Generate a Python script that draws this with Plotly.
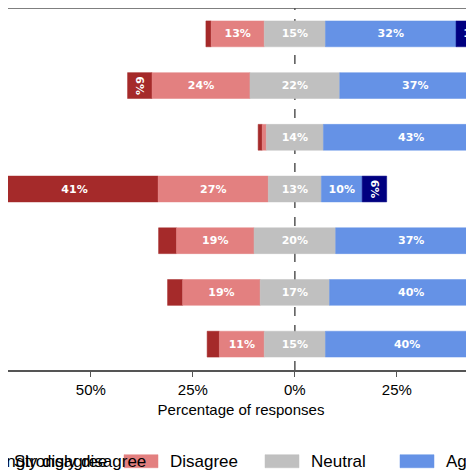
import plotly.graph_objects as go

questions = ["Q1", "Q2", "Q3", "Q4", "Q5", "Q6", "Q7"]
strongly_disagree = [1.3, 6, 1, 41, 4.4, 3.7, 3]
disagree = [13, 24, 1, 27, 19, 19, 11]
neutral = [15, 22, 14, 13, 20, 17, 15]
agree = [32, 37, 43, 10, 37, 40, 40]
strongly_agree = [10, 8, 5, 6, 9, 7, 12]

tick_vals = [-75, -50, -25, 0, 25, 50]
tick_text = ["75%", "50%", "25%", "0%", "25%", "50%"]

colors = {
    "Strongly disagree": "#a52a2a",
    "Disagree": "#e38080",
    "Neutral": "#c0c0c0",
    "Agree": "#6592e6",
    "Strongly agree": "#000080",
}

# stack outward from a neutral block centred on zero
bases = {k: [] for k in colors}
for sd, d, n, a in zip(strongly_disagree, disagree, neutral, agree):
    bases["Neutral"].append(-n / 2)
    bases["Disagree"].append(-n / 2 - d)
    bases["Strongly disagree"].append(-n / 2 - d - sd)
    bases["Agree"].append(n / 2)
    bases["Strongly agree"].append(n / 2 + a)

series = {
    "Strongly disagree": strongly_disagree,
    "Disagree": disagree,
    "Neutral": neutral,
    "Agree": agree,
    "Strongly agree": strongly_agree,
}

W, H = 466, 466
fig = go.Figure()
for name, vals in series.items():
    fig.add_trace(go.Bar(
        y=questions, x=vals, base=bases[name], orientation="h", name=name,
        marker=dict(color=colors[name], line=dict(color=colors[name], width=0.5)),
        text=[f"<b>{v:.0f}%</b>" if v >= 5 else "" for v in vals],
        textposition="inside", insidetextanchor="middle",
        textfont=dict(color="white", size=11, family="DejaVu Sans"),
        width=0.5, showlegend=False,
    ))

fig.add_shape(type="line", x0=0, x1=0, y0=0, y1=1, yref="paper", layer="below",
              line=dict(color="#555555", width=1.5, dash="dash"))
fig.add_shape(type="line", x0=0, x1=1, xref="paper", y0=1, y1=1, yref="paper",
              line=dict(color="#555", width=1.5))

# legend drawn by hand, the way the cropped reference shows it
legend_y = -0.252
swatch_px = {"Strongly disagree": -40, "Disagree": 116, "Neutral": 257, "Agree": 392, "Strongly agree": 560}
for name, px0 in swatch_px.items():
    fig.add_shape(type="rect", xref="paper", yref="paper",
                  x0=px0 / W, x1=(px0 + 34) / W, y0=legend_y - 0.018, y1=legend_y + 0.018,
                  fillcolor=colors[name], line=dict(color=colors[name], width=0.5))
    fig.add_annotation(text=name, xref="paper", yref="paper", x=(px0 + 44) / W, y=legend_y,
                       xanchor="left", yanchor="middle", showarrow=False, font=dict(size=17))
fig.add_annotation(text="Strongly disagree", xref="paper", yref="paper", x=101 / W, y=legend_y,
                   xanchor="right", yanchor="middle", showarrow=False, font=dict(size=17))

fig.update_layout(
    width=W, height=H, barmode="overlay", plot_bgcolor="white", paper_bgcolor="white",
    margin=dict(l=0, r=0, t=0, b=104, autoexpand=False),
    font=dict(family="Liberation Sans", color="black"),
    uniformtext=dict(minsize=8, mode="show"),
)
fig.update_xaxes(range=[-70.3, 43.9], tickvals=tick_vals, ticktext=tick_text,
                 tickfont=dict(size=15), ticks="outside", ticklen=5, tickcolor="#555",
                 showline=True, linecolor="#555", linewidth=1.5, showgrid=False,
                 zeroline=False, title=dict(text="Percentage of responses", font=dict(size=15), standoff=8))
fig.update_yaxes(showticklabels=False, showgrid=False, range=[6.5, -0.5])

fig.write_html("out.html")
